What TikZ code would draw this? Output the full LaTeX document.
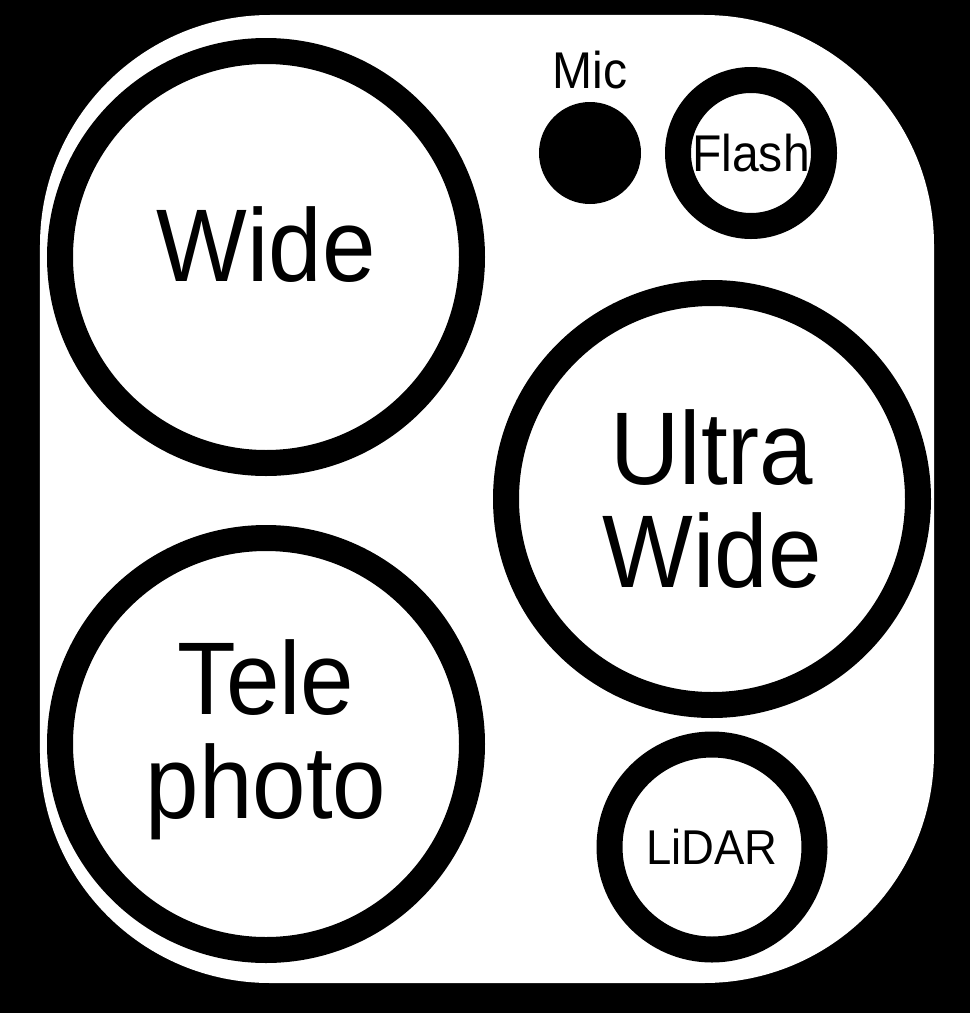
\documentclass[tikz,border=0pt]{standalone}
\usepackage{fontspec}
\usepackage{xcolor}
\usetikzlibrary{positioning}
\newfontfamily\camfont{Liberation Sans}[FakeStretch=0.93]
\definecolor{moduleBlack}{RGB}{0, 0, 0}
\definecolor{moduleWhite}{RGB}{255, 255, 255}

\begin{document}
\begin{tikzpicture}
    \tikzstyle{lens} = [circle, draw=moduleBlack, line width=0.26cm, inner sep=0pt]
    \tikzstyle{bigtext} = [inner sep=0pt, align=center, text=moduleBlack, font=\camfont\fontsize{29.4}{29.5}\selectfont]
    \tikzstyle{smalltext} = [inner sep=0pt, text=moduleBlack, font=\camfont\fontsize{14.7}{16}\selectfont]

    % camera module plate
    \fill[moduleBlack] (0,0) rectangle (9.70,-10.13);
    \fill[moduleWhite, rounded corners=2.3cm] (0.40,-0.15) rectangle (9.34,-9.83);

    \node[lens, minimum size=4.12cm] (wide) at (2.66,-2.57) {};
    \node[lens, minimum size=4.12cm] (tele) at (2.66,-7.44) {};
    \node[lens, minimum size=4.12cm] (ultra) at (7.12,-4.99) {};
    \node[lens, smalltext, minimum size=2.05cm, font=\camfont\fontsize{13.9}{16}\selectfont] (lidar) at (7.12,-8.47) {LiDAR};
    \node[lens, smalltext, minimum size=1.46cm] (flash) at (7.51,-1.53) {Flash};
    \node[circle, fill=moduleBlack, minimum size=1.02cm, inner sep=0pt] (mic) at (5.90,-1.53) {};

    \node[bigtext] (wideText) at ([yshift=0.12cm]wide.center) {Wide};
    \node[bigtext] (teleText) at ([yshift=0.04cm]tele.center) {Tele\\photo};
    \node[bigtext] (ultraText) at (ultra.center) {Ultra\\Wide};
    \node[smalltext, above=0.12cm of mic] (micText) {Mic};
\end{tikzpicture}
\end{document}
